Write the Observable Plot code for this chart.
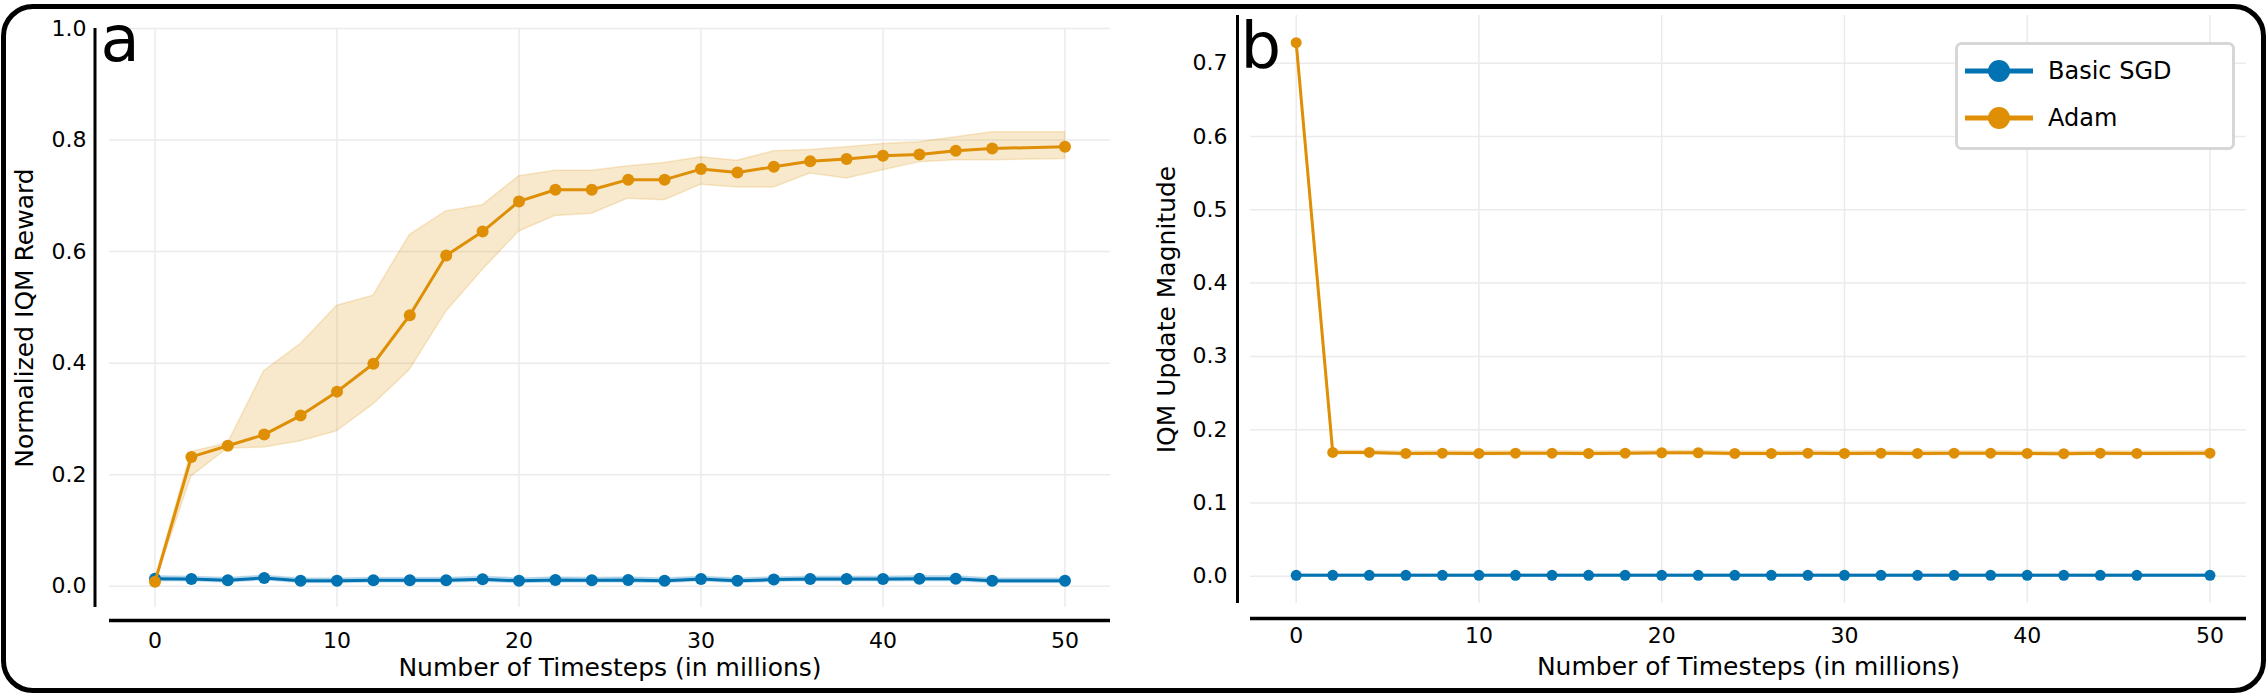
<!DOCTYPE html>
<html><head><meta charset="utf-8">
<script src="https://cdn.jsdelivr.net/npm/d3@7"></script>
<script src="https://cdn.jsdelivr.net/npm/@observablehq/plot@0.6"></script>
<style>
body{margin:0;background:#fff;}
#wrap{position:relative;width:2268px;height:695px;overflow:hidden;font-family:"DejaVu Sans",sans-serif;background:#fff;}
#border{position:absolute;left:1px;top:4px;width:2265px;height:689px;box-sizing:border-box;border:5px solid #000;border-radius:32px;pointer-events:none;}
.panel{position:absolute;top:0;}
#legend{position:absolute;left:1955px;top:42px;}
</style></head><body>
<div id="wrap"><div id="pa" class="panel" style="left:0px"></div><div id="pb" class="panel" style="left:1130px"></div><div id="legend"></div><div id="border"></div></div>
<script>
const timesteps = [0,2,4,6,8,10,12,14,16,18,20,22,24,26,28,30,32,34,36,38,40,42,44,46,50];
const seriesNames = ["Basic SGD", "Adam"];
const seriesColors = ["#0173b2", "#de8f05"];

// Panel a: Normalized IQM Reward
const sgdReward   = [0.0135,0.013,0.011,0.015,0.010,0.010,0.011,0.011,0.011,0.0125,0.010,0.0115,0.011,0.0115,0.010,0.013,0.010,0.012,0.013,0.013,0.013,0.0135,0.0135,0.010,0.010];
const sgdRewardLo = [0.009,0.009,0.007,0.011,0.006,0.006,0.007,0.007,0.007,0.008,0.006,0.007,0.007,0.007,0.006,0.009,0.006,0.008,0.009,0.009,0.009,0.009,0.009,0.006,0.006];
const sgdRewardHi = [0.018,0.017,0.015,0.019,0.014,0.014,0.015,0.015,0.015,0.017,0.014,0.016,0.015,0.016,0.014,0.017,0.014,0.016,0.017,0.017,0.017,0.018,0.018,0.014,0.014];
const adamReward   = [0.008,0.232,0.252,0.272,0.306,0.349,0.399,0.486,0.593,0.636,0.690,0.711,0.711,0.729,0.729,0.748,0.742,0.752,0.762,0.766,0.772,0.774,0.781,0.785,0.788];
const adamRewardLo = [0.005,0.197,0.247,0.249,0.260,0.278,0.326,0.388,0.492,0.567,0.636,0.664,0.668,0.695,0.692,0.720,0.715,0.715,0.740,0.731,0.746,0.760,0.764,0.764,0.766];
const adamRewardHi = [0.012,0.241,0.256,0.386,0.434,0.503,0.521,0.630,0.672,0.683,0.735,0.745,0.745,0.753,0.759,0.769,0.763,0.780,0.782,0.787,0.793,0.796,0.805,0.814,0.814];

// Panel b: IQM Update Magnitude
const sgdUpdate   = [0.0015,0.0015,0.0015,0.0015,0.0015,0.0015,0.0015,0.0015,0.0015,0.0015,0.0015,0.0015,0.0015,0.0015,0.0015,0.0015,0.0015,0.0015,0.0015,0.0015,0.0015,0.0015,0.0015,0.0015,0.0015];
const sgdUpdateLo = [0.0005,0.0005,0.0005,0.0005,0.0005,0.0005,0.0005,0.0005,0.0005,0.0005,0.0005,0.0005,0.0005,0.0005,0.0005,0.0005,0.0005,0.0005,0.0005,0.0005,0.0005,0.0005,0.0005,0.0005,0.0005];
const sgdUpdateHi = [0.0025,0.0025,0.0025,0.0025,0.0025,0.0025,0.0025,0.0025,0.0025,0.0025,0.0025,0.0025,0.0025,0.0025,0.0025,0.0025,0.0025,0.0025,0.0025,0.0025,0.0025,0.0025,0.0025,0.0025,0.0025];
const adamUpdate   = [0.728,0.169,0.169,0.1677,0.168,0.1677,0.168,0.168,0.1677,0.168,0.1686,0.1686,0.1677,0.1677,0.168,0.1677,0.168,0.1677,0.168,0.168,0.1677,0.1673,0.168,0.1677,0.168];
const adamUpdateLo = [0.727,0.1665,0.1665,0.1652,0.1655,0.1652,0.1655,0.1655,0.1652,0.1655,0.1661,0.1661,0.1652,0.1652,0.1655,0.1652,0.1655,0.1652,0.1655,0.1655,0.1652,0.1648,0.1655,0.1652,0.1655];
const adamUpdateHi = [0.729,0.1715,0.1715,0.1702,0.1705,0.1702,0.1705,0.1705,0.1702,0.1705,0.1711,0.1711,0.1702,0.1702,0.1705,0.1702,0.1705,0.1702,0.1705,0.1705,0.1702,0.1698,0.1705,0.1702,0.1705];

const xTicks = [0,10,20,30,40,50];
const rewardTicks = [0,0.2,0.4,0.6,0.8,1.0];
const updateTicks = [0,0.1,0.2,0.3,0.4,0.5,0.6,0.7];
const xLabel = "Number of Timesteps (in millions)";

function rows(vals, lo, hi) {
  return timesteps.map((t, i) => ({t, v: vals[i], lo: lo[i], hi: hi[i]}));
}

function makePanel(c) {
  const series = c.series;
  const marks = [
    Plot.gridX(xTicks, {stroke: "#ebebeb", strokeOpacity: 1, strokeWidth: 1.5}),
    Plot.gridY(c.yTicks, {stroke: "#ebebeb", strokeOpacity: 1, strokeWidth: 1.5})
  ];
  series.forEach((s, k) => {
    const d = rows(s[0], s[1], s[2]);
    marks.push(Plot.areaY(d, {x: "t", y1: "lo", y2: "hi", fill: seriesColors[k], fillOpacity: 0.2, stroke: seriesColors[k], strokeOpacity: 0.2, strokeWidth: 1.5}));
  });
  series.forEach((s, k) => {
    const d = rows(s[0], s[1], s[2]);
    marks.push(Plot.line(d, {x: "t", y: "v", stroke: seriesColors[k], strokeWidth: 3}));
    marks.push(Plot.dot(d, {x: "t", y: "v", fill: seriesColors[k], r: c.r, stroke: "none"}));
  });
  marks.push(
    Plot.ruleY([c.yDomain[0]], {dy: c.xSpineDy, stroke: "#000", strokeWidth: 3.5}),
    Plot.ruleX([c.xDomain[0]], {dx: c.ySpineDx, stroke: "#000", strokeWidth: 3}),
    Plot.axisX({ticks: xTicks, tickSize: 0, tickPadding: c.xPad, fontSize: 22, label: null, tickFormat: d3.format("d")}),
    Plot.axisY({ticks: c.yTicks, tickSize: 0, tickPadding: 23, fontSize: 22, label: null, tickFormat: d3.format(".1f")}),
    Plot.text([xLabel], {frameAnchor: "bottom", text: d => d, lineAnchor: "bottom", dy: c.xLabelDy, fontSize: 25, fill: "#000"}),
    Plot.text([c.yLabel], {frameAnchor: "left", text: d => d, rotate: -90, textAnchor: "middle", lineAnchor: "middle", dx: c.yLabelDx, fontSize: 25, fill: "#000"}),
    Plot.text([c.letter], {frameAnchor: "top-left", text: d => d, fontSize: 64, dx: c.letterDx, dy: c.letterDy, fill: "#000"})
  );
  return Plot.plot({
    width: c.width, height: 695,
    marginLeft: c.ml, marginRight: c.mr, marginTop: c.mt, marginBottom: c.mb,
    x: {domain: c.xDomain},
    y: {domain: c.yDomain},
    style: {fontFamily: "DejaVu Sans", color: "#000", background: "transparent", overflow: "visible"},
    marks
  });
}

document.getElementById("pa").append(makePanel({
  width: 1130, ml: 109, mr: 20, mt: 28, mb: 88,
  xDomain: [-2.5, 52.5], yDomain: [-0.038, 1.0], yTicks: rewardTicks,
  series: [[sgdReward, sgdRewardLo, sgdRewardHi], [adamReward, adamRewardLo, adamRewardHi]],
  r: 6, xSpineDy: 13, ySpineDx: -14.5, xPad: 25, xLabelDy: 68, yLabelDx: -85,
  yLabel: "Normalized IQM Reward", letter: "a", letterDx: -9, letterDy: -13
}));

document.getElementById("pb").append(makePanel({
  width: 1138, ml: 120, mr: 22, mt: 15, mb: 92,
  xDomain: [-2.5, 52], yDomain: [-0.037, 0.765], yTicks: updateTicks,
  series: [[sgdUpdate, sgdUpdateLo, sgdUpdateHi], [adamUpdate, adamUpdateLo, adamUpdateHi]],
  r: 5.5, xSpineDy: 15, ySpineDx: -13, xPad: 24, xLabelDy: 71, yLabelDx: -83.5,
  yLabel: "IQM Update Magnitude", letter: "b", letterDx: -10, letterDy: 7
}));

// Legend
const lg = d3.select("#legend").append("svg").attr("width", 280).attr("height", 108)
  .style("font-family", "DejaVu Sans");
lg.append("rect").attr("x", 1.5).attr("y", 1.5).attr("width", 277).attr("height", 105)
  .attr("rx", 5).attr("fill", "#fff").attr("stroke", "#d6d6d6").attr("stroke-width", 3);
seriesNames.forEach((name, k) => {
  const cy = 29 + k * 47;
  lg.append("line").attr("x1", 10).attr("x2", 78).attr("y1", cy).attr("y2", cy)
    .attr("stroke", seriesColors[k]).attr("stroke-width", 5);
  lg.append("circle").attr("cx", 44).attr("cy", cy).attr("r", 11).attr("fill", seriesColors[k]);
  lg.append("text").attr("x", 93).attr("y", cy).attr("dy", "0.35em").attr("font-size", 24)
    .attr("fill", "#000").text(name);
});
</script>
</body></html>
